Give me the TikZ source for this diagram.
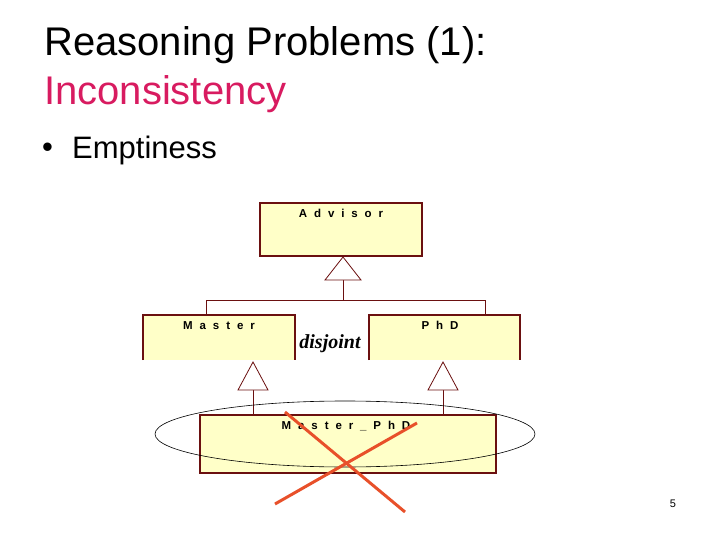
\documentclass[tikz,border=0pt]{standalone}
\usepackage{fontspec}
\setmainfont{Liberation Sans}
\newfontfamily\serifit{Liberation Serif}
\definecolor{bx}{HTML}{FFFFC8}
\definecolor{bd}{HTML}{6B1010}
\definecolor{tt}{HTML}{D81B60}
\definecolor{rx}{HTML}{E8502A}
\begin{document}
\begin{tikzpicture}[x=1pt,y=-1pt,
 cls/.style={fill=bx,draw=bd,line width=1.2pt},
 lbl/.style={font=\bfseries\fontsize{11.5}{12}\selectfont\addfontfeatures{LetterSpace=60},anchor=north},
 gen/.style={draw=bd,line width=0.8pt},
 tri/.style={draw=bd,fill=white,line width=0.8pt},
 xl/.style={draw=rx,line width=3pt}]
\useasboundingbox (0,0) rectangle (720,540);
\node[anchor=west,font=\fontsize{40}{40}\selectfont,inner sep=0pt] (t1) at (44,45) {Reasoning Problems (1):};
\node[anchor=west,font=\fontsize{40}{40}\selectfont,text=tt,inner sep=0pt] (t2) at (44,94) {Inconsistency};
\node[anchor=west,font=\fontsize{31}{31}\selectfont,inner sep=0pt] (bu) at (42,150) {•};
\node[anchor=west,font=\fontsize{31}{31}\selectfont,inner sep=0pt] (b1) at (72,150) {Emptiness};
\node[font=\fontsize{11}{11}\selectfont] (pg) at (673,504) {5};
% boxes
\filldraw[cls] (260,203) rectangle (422,256);
\node[lbl] (adv) at (341,206) {Advisor};
\fill[bx] (143,315) rectangle (295,360);
\draw[cls] (143,360) -- (143,315) -- (295,315) -- (295,360);
\node[lbl] (mas) at (219,318) {Master};
\fill[bx] (369,315) rectangle (520,360);
\draw[cls] (369,360) -- (369,315) -- (520,315) -- (520,360);
\node[lbl] (phd) at (440,318) {PhD};
\filldraw[cls] (200,415) rectangle (496,473);
\node[lbl] (mp) at (346,418) {Master\_PhD};
\node[font=\serifit\bfseries\itshape\fontsize{20}{20}\selectfont] (dis) at (330,344) {disjoint};
% generalisations
\coordinate (a1) at (343,280);
\draw[gen] (a1) -- (343,300) (206,315) -- (206,300) -- (485,300) -- (485,315);
\draw[tri] (343,257) -- (361,280) -- (325,280) -- cycle;
\draw[gen] (253,390) -- (253,415);
\draw[tri] (253,362) -- (268,390) -- (238,390) -- cycle;
\draw[gen] (443,390) -- (443,415);
\draw[tri] (443,362) -- (458,390) -- (428,390) -- cycle;
\draw[black,line width=0.6pt] (345,434) ellipse [x radius=190,y radius=33];
\draw[xl] (285,412) -- (405,512);
\draw[xl] (417,423) -- (275,504);
\end{tikzpicture}
\end{document}
